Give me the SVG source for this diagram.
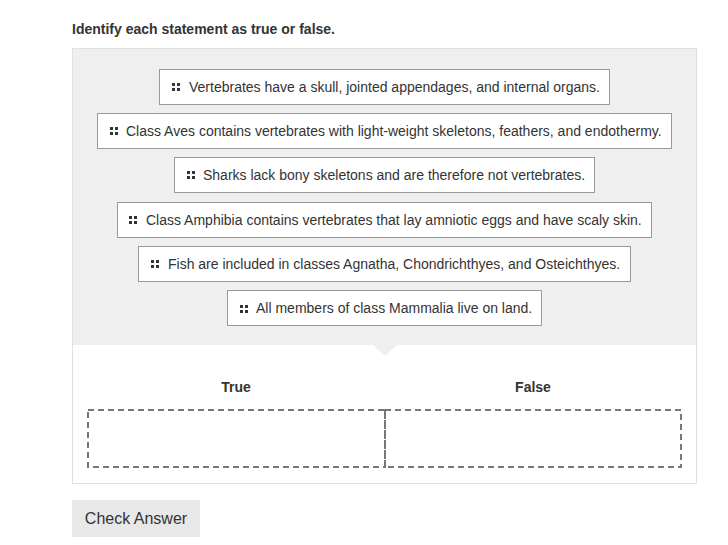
<svg xmlns="http://www.w3.org/2000/svg" width="728" height="545" viewBox="0 0 728 545">
<defs>
<style>
.t{font-family:"Liberation Sans",Arial,sans-serif;font-size:14px;fill:#333}
.b{font-family:"Liberation Sans",Arial,sans-serif;font-size:14px;font-weight:bold;fill:#333}
.card{fill:#fff;stroke:#999;stroke-width:1}
.dz{fill:none;stroke:#777;stroke-width:2;stroke-dasharray:6,4}
</style>
<g id="h"><rect x="0" y="0" width="3" height="3" fill="#333"/><rect x="5" y="0" width="3" height="3" fill="#333"/><rect x="0" y="5" width="3" height="3" fill="#333"/><rect x="5" y="5" width="3" height="3" fill="#333"/></g>
</defs>
<rect width="728" height="545" fill="#fff"/>
<text class="b" x="72" y="34">Identify each statement as true or false.</text>
<rect x="72.5" y="48.5" width="624" height="435" fill="#fff" stroke="#e0e0e0"/>
<rect x="73" y="49" width="623" height="296" fill="#efefef"/>
<polygon points="373,345 397,345 385,356" fill="#efefef"/>
<g id="n1"><rect class="card" x="159.5" y="69.5" width="450" height="35"/><use href="#h" x="172" y="83"/><text class="t" x="189" y="92">Vertebrates have a skull, jointed appendages, and internal organs.</text></g>
<g id="n2"><rect class="card" x="97.5" y="113.5" width="574" height="35"/><use href="#h" x="110" y="127"/><text class="t" x="126" y="136">Class Aves contains vertebrates with light-weight skeletons, feathers, and endothermy.</text></g>
<g id="n3"><rect class="card" x="174.5" y="157.5" width="420" height="35"/><use href="#h" x="187" y="171"/><text class="t" x="203" y="180">Sharks lack bony skeletons and are therefore not vertebrates.</text></g>
<g id="n4"><rect class="card" x="117.5" y="202.5" width="534" height="35"/><use href="#h" x="129" y="216"/><text class="t" x="146" y="225">Class Amphibia contains vertebrates that lay amniotic eggs and have scaly skin.</text></g>
<g id="n5"><rect class="card" x="138.5" y="246.5" width="492" height="35"/><use href="#h" x="151" y="260"/><text class="t" x="168" y="269">Fish are included in classes Agnatha, Chondrichthyes, and Osteichthyes.</text></g>
<g id="n6"><rect class="card" x="227.5" y="290.5" width="314" height="35"/><use href="#h" x="240" y="305"/><text class="t" x="256" y="313">All members of class Mammalia live on land.</text></g>
<g id="zones">
<text class="b" x="236" y="392" text-anchor="middle">True</text>
<text class="b" x="533" y="392" text-anchor="middle">False</text>
<rect class="dz" x="88" y="410" width="297" height="57"/>
<rect class="dz" x="385" y="410" width="296" height="57"/>
</g>
<g id="btn"><rect x="72" y="500" width="128" height="37" fill="#e8e8e8"/><text x="136" y="524" text-anchor="middle" font-family="Liberation Sans,Arial,sans-serif" font-size="16" fill="#333">Check Answer</text></g>
</svg>
